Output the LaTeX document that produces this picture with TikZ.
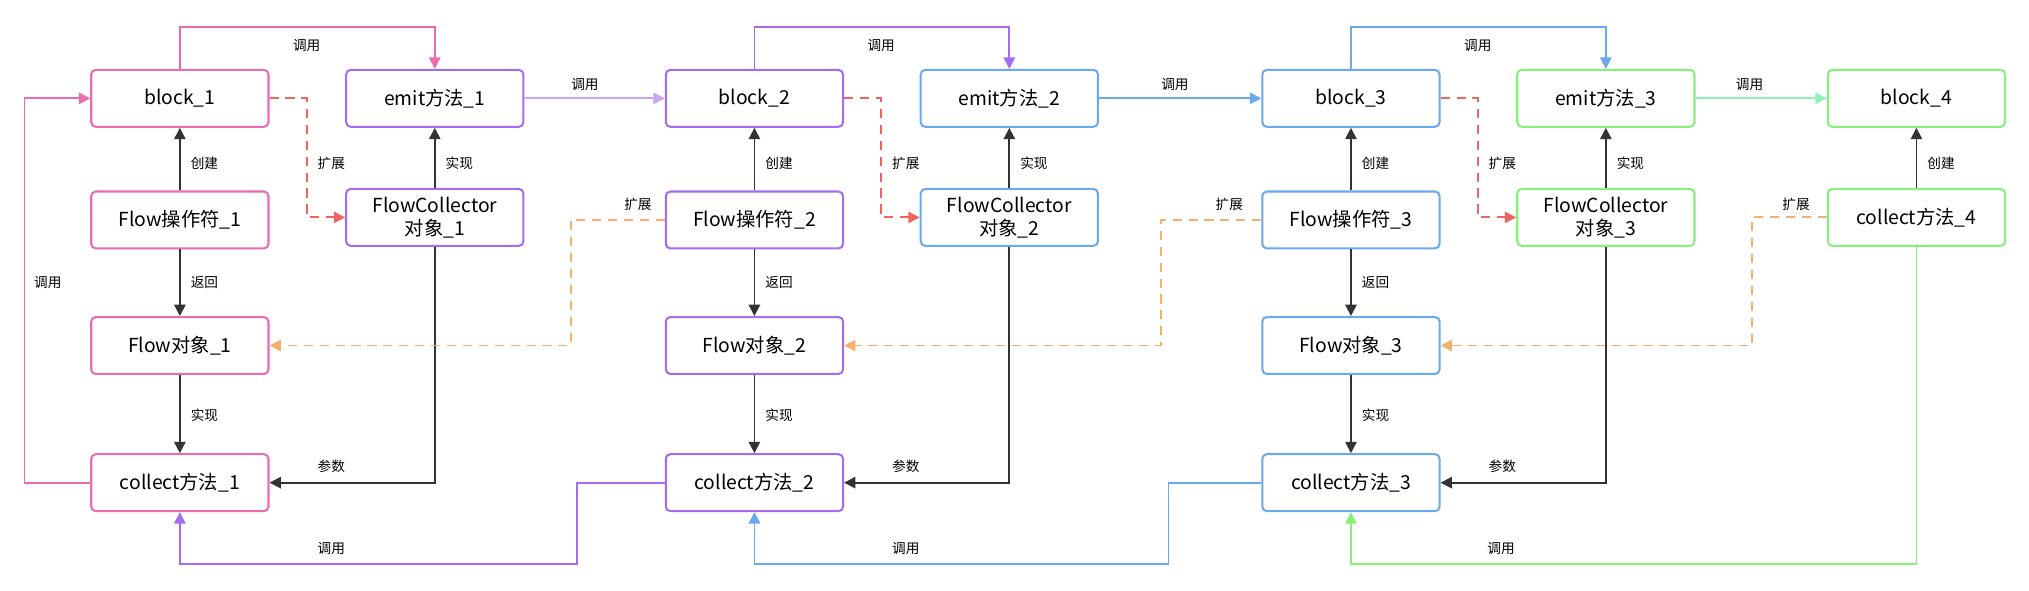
\documentclass[tikz,border=0pt]{standalone}
\usepackage{fontspec}
\setmainfont{Noto Sans CJK SC}
\usetikzlibrary{arrows.meta}
\definecolor{cpink}{HTML}{EC6AAE}
\definecolor{cpurple}{HTML}{A66CF0}
\definecolor{clpurple}{HTML}{C8A6F6}
\definecolor{cblue}{HTML}{6AA8F2}
\definecolor{cgreen}{HTML}{86F07A}
\definecolor{cmint}{HTML}{8CF2B8}
\definecolor{cred}{HTML}{F06464}
\definecolor{corange}{HTML}{F5B06A}
\definecolor{cdark}{HTML}{333333}
\begin{document}
\begin{tikzpicture}[x=0.02cm,y=-0.02cm,
  box/.style={draw=#1,line width=0.9pt,rounded corners=2pt,minimum width=2.74cm,minimum height=0.88cm,align=center,font=\fontsize{8.5}{10}\selectfont,inner sep=1pt},
  lab/.style={font=\fontsize{6}{7}\selectfont},
  ar/.style={-{Triangle[length=5pt,width=5pt]},line width=0.8pt,draw=#1},
  dar/.style={ar=#1,dashed,dash pattern=on 4pt off 3pt}]
\useasboundingbox (0,0) rectangle (1568,456);
% nodes
\node[box=cpink] (b1) at (139,76) {block\_1};
\node[box=cpink] (o1) at (139,170) {Flow操作符\_1};
\node[box=cpink] (f1) at (139,267) {Flow对象\_1};
\node[box=cpink] (c1) at (139,373) {collect方法\_1};
\node[box=cpurple] (e1) at (336,76) {emit方法\_1};
\node[box=cpurple] (k1) at (336,168) {FlowCollector\\对象\_1};
\node[box=cpurple] (b2) at (583,76) {block\_2};
\node[box=cpurple] (o2) at (583,170) {Flow操作符\_2};
\node[box=cpurple] (f2) at (583,267) {Flow对象\_2};
\node[box=cpurple] (c2) at (583,373) {collect方法\_2};
\node[box=cblue] (e2) at (780,76) {emit方法\_2};
\node[box=cblue] (k2) at (780,168) {FlowCollector\\对象\_2};
\node[box=cblue] (b3) at (1044,76) {block\_3};
\node[box=cblue] (o3) at (1044,170) {Flow操作符\_3};
\node[box=cblue] (f3) at (1044,267) {Flow对象\_3};
\node[box=cblue] (c3) at (1044,373) {collect方法\_3};
\node[box=cgreen] (e3) at (1241,76) {emit方法\_3};
\node[box=cgreen] (k3) at (1241,168) {FlowCollector\\对象\_3};
\node[box=cgreen] (b4) at (1481,76) {block\_4};
\node[box=cgreen] (c4) at (1481,168) {collect方法\_4};
% coordinates
\coordinate (t1) at (139,21); \coordinate (t2) at (583,21); \coordinate (t3) at (1044,21);
\coordinate (r1) at (237,76); \coordinate (r2) at (681,76); \coordinate (r3) at (1142,76);
\coordinate (y1) at (441,170); \coordinate (y2) at (897,170); \coordinate (y3) at (1354,168);
\coordinate (l1) at (19,373); \coordinate (l2) at (446,373); \coordinate (l3) at (903,373);
\coordinate (d1) at (139,436); \coordinate (d2) at (583,436); \coordinate (d3) at (1044,436); \coordinate (d4) at (1481,436);
% black edges
\foreach \i in {1,2,3}{
  \draw[ar=cdark] (o\i) -- (b\i);
  \draw[ar=cdark] (o\i) -- (f\i);
  \draw[ar=cdark] (f\i) -- (c\i);
  \draw[ar=cdark] (k\i) -- (e\i);
  \draw[ar=cdark] (k\i.south) |- (c\i.east);
  \draw[dar=cred] (b\i.east) -- (r\i) |- (k\i.west);
}
\draw[ar=cdark] (c4) -- (b4);
% top loops
\draw[ar=cpink] (b1.north) -- (t1) -| (e1.north);
\draw[ar=cpurple] (b2.north) -- (t2) -| (e2.north);
\draw[ar=cblue] (b3.north) -- (t3) -| (e3.north);
% emit -> block
\draw[ar=clpurple] (e1) -- (b2);
\draw[ar=cblue] (e2) -- (b3);
\draw[ar=cmint] (e3) -- (b4);
% orange
\draw[dar=corange] (o2.west) -- (y1) |- (f1.east);
\draw[dar=corange] (o3.west) -- (y2) |- (f2.east);
\draw[dar=corange] (c4.west) -- (y3) |- (f3.east);
% bottom loops
\draw[ar=cpink] (c1.west) -- (l1) |- (b1.west);
\draw[ar=cpurple] (c2.west) -- (l2) |- (d1) -- (c1.south);
\draw[ar=cblue] (c3.west) -- (l3) |- (d2) -- (c2.south);
\draw[ar=cgreen] (c4.south) -- (d4) -- (d3) -- (c3.south);
% labels
\foreach \dx/\n in {0/1,444/2,905/3}{
  \node[lab] (lt\n) at (237+\dx,35) {调用};
  \node[lab] (lc\n) at (158+\dx,126) {创建};
  \node[lab] (lr\n) at (158+\dx,218) {返回};
  \node[lab] (ls\n) at (158+\dx,321) {实现};
  \node[lab] (lx\n) at (256+\dx,126) {扩展};
  \node[lab] (li\n) at (355+\dx,126) {实现};
  \node[lab] (lp\n) at (256+\dx,360) {参数};
}
\node[lab] (le1) at (452,65) {调用};
\node[lab] (le2) at (908,65) {调用};
\node[lab] (le3) at (1352,65) {调用};
\node[lab] (lo1) at (493,158) {扩展};
\node[lab] (lo2) at (950,158) {扩展};
\node[lab] (lo3) at (1388,158) {扩展};
\node[lab] (lb1) at (256,424) {调用};
\node[lab] (lb2) at (700,424) {调用};
\node[lab] (lb3) at (1160,424) {调用};
\node[lab] (ll) at (37,218) {调用};
\node[lab] (lc4) at (1500,126) {创建};
\end{tikzpicture}
\end{document}
